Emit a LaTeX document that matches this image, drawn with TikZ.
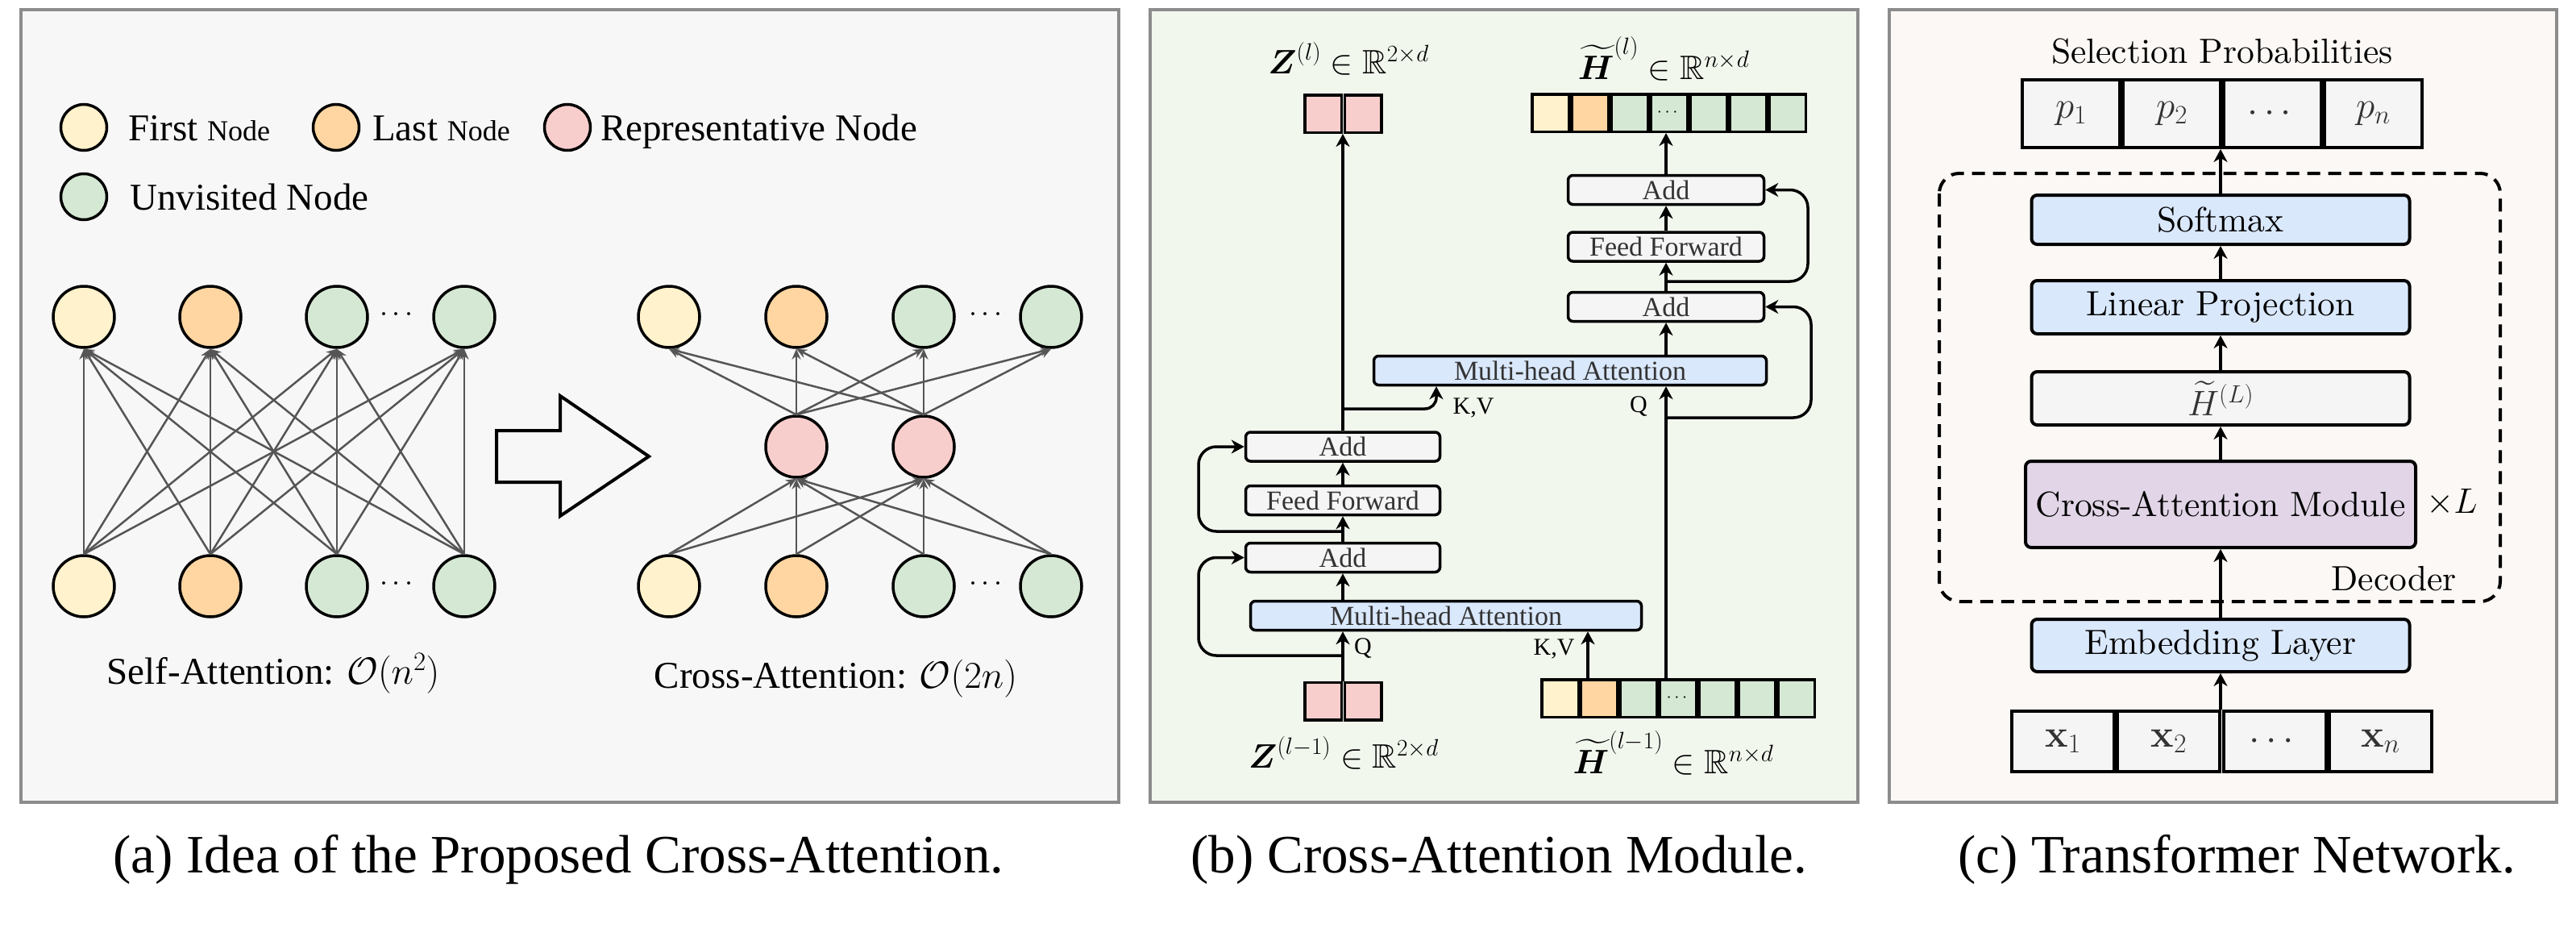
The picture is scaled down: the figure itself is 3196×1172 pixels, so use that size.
\RequirePackage{fix-cm}
\documentclass[tikz,border=0pt]{standalone}
\usepackage{amsmath,amssymb}
\usepackage[no-math]{fontspec}
\setmainfont{Liberation Serif}
\newfontfamily\lmfont{lmroman10-regular.otf}
\usetikzlibrary{arrows.meta}
\DeclareFontFamily{U}{msb}{}
\DeclareFontShape{U}{msb}{m}{n}{<-> msbm10}{}
\newcommand\fsz[1]{\fontsize{#1}{#1}\selectfont}
\definecolor{boxblue}{HTML}{DAE8FC}
\definecolor{boxgray}{HTML}{F5F5F5}
\definecolor{boxpurple}{HTML}{E1D5E7}
\definecolor{cyellow}{HTML}{FFF2CC}
\definecolor{corange}{HTML}{FFD6A2}
\definecolor{cpink}{HTML}{F8CECC}
\definecolor{cgreen}{HTML}{D5E8D4}
\definecolor{panelgray}{HTML}{8C8C8C}
\definecolor{bgA}{HTML}{F7F7F7}
\definecolor{bgB}{HTML}{F2F7EE}
\definecolor{bgC}{HTML}{FCF8F5}
\definecolor{edgegray}{HTML}{555555}
\definecolor{txtgray}{HTML}{333333}
\tikzset{
 pnl/.style={draw=panelgray, line width=4pt},
 nd/.style={circle, draw=black, line width=3.5pt, minimum size=76pt, inner sep=0pt},
 lg/.style={circle, draw=black, line width=3.5pt, minimum size=57pt, inner sep=0pt},
 gedge/.style={draw=edgegray, line width=2.5pt, -{Stealth[length=13pt,width=11pt]}},
 lgtxt/.style={anchor=base west, inner sep=0pt, font=\fsz{47}},
 dotsA/.style={inner sep=0pt, font=\fsz{36}},
 bx/.style={draw=black, line width=3.5pt, rounded corners=6pt, fill=boxgray, text=txtgray, inner sep=0pt, font=\fsz{34}, minimum height=36pt},
 mha/.style={bx, fill=boxblue},
 arr/.style={line width=3.5pt, -{Stealth[length=16pt,width=17pt,inset=5pt]}},
 cellb/.style={draw=black, line width=3.5pt, minimum width=45.5pt, minimum height=46.5pt, inner sep=0pt},
 lbl/.style={inner sep=0pt, font=\fsz{30}},
 mlbl/.style={inner sep=0pt, font=\fsz{42}},
 cbx/.style={draw=black, line width=4pt, rounded corners=7pt, inner sep=0pt, font=\lmfont\fsz{43.5}, minimum width=469pt},
 pcell/.style={draw=black, line width=4pt, fill=boxgray, text=txtgray, inner sep=0pt, font=\fsz{47}},
 captxt/.style={anchor=base, inner sep=0pt, font=\fsz{67}},
}
\begin{document}
\begin{tikzpicture}[x=1pt,y=-1pt]
\useasboundingbox (0,0) rectangle (3196,1172);
% ---------- panels
\draw[pnl, fill=bgA] (26,12) rectangle (1388,995);
\draw[pnl, fill=bgB] (1427,12) rectangle (2305,995);
\draw[pnl, fill=bgC] (2344,12) rectangle (3172,995);

% ---------- panel (a): legend
\node[lg, fill=cyellow] (lf) at (104,158) {};
\node[lgtxt] (lft) at (159,174) {First {\fsz{36}Node}};
\node[lg, fill=corange] (ll) at (417,158) {};
\node[lgtxt] (llt) at (462,174) {Last {\fsz{36}Node}};
\node[lg, fill=cpink] (lr) at (704,158) {};
\node[lgtxt] (lrt) at (745,174) {Representative Node};
\node[lg, fill=cgreen] (lu) at (104,244) {};
\node[lgtxt] (lut) at (161,260) {Unvisited Node};

% ---------- panel (a): self-attention
\node[nd, fill=cyellow] (a1) at (104,393) {};
\node[nd, fill=corange] (a2) at (261,393) {};
\node[nd, fill=cgreen] (a3) at (418,393) {};
\node[nd, fill=cgreen] (a4) at (576,393) {};
\node[nd, fill=cyellow] (b1) at (104,727) {};
\node[nd, fill=corange] (b2) at (261,727) {};
\node[nd, fill=cgreen] (b3) at (418,727) {};
\node[nd, fill=cgreen] (b4) at (576,727) {};
\node[dotsA] (adots) at (495,390) {$\cdots$};
\node[dotsA] (bdots) at (495,724) {$\cdots$};
\foreach \i in {1,...,4}{\foreach \j in {1,...,4}{\draw[gedge] (b\i.north) -- (a\j.south);}}
\node[inner sep=0pt, font=\fsz{47}] (sa) at (339,835) {Self-Attention: $\mathcal{O}(n^2)$};

% big hollow arrow
\draw[line width=4pt, line join=miter, fill=bgA] (616,534) -- (695,534) -- (695,491) -- (805,566) -- (695,640) -- (695,598) -- (616,598) -- cycle;

% ---------- panel (a): cross-attention
\node[nd, fill=cyellow] (c1) at (830,393) {};
\node[nd, fill=corange] (c2) at (988,393) {};
\node[nd, fill=cgreen] (c3) at (1146,393) {};
\node[nd, fill=cgreen] (c4) at (1304,393) {};
\node[nd, fill=cpink] (r1) at (988,554) {};
\node[nd, fill=cpink] (r2) at (1146,554) {};
\node[nd, fill=cyellow] (d1) at (830,727) {};
\node[nd, fill=corange] (d2) at (988,727) {};
\node[nd, fill=cgreen] (d3) at (1146,727) {};
\node[nd, fill=cgreen] (d4) at (1304,727) {};
\node[dotsA] (cdots) at (1226,390) {$\cdots$};
\node[dotsA] (ddots) at (1226,724) {$\cdots$};
\foreach \i in {1,...,4}{\foreach \r in {1,2}{
  \draw[gedge] (d\i.north) -- (r\r.south);
  \draw[gedge] (r\r.north) -- (c\i.south);}}
\node[inner sep=0pt, font=\fsz{47}] (ca) at (1037,842) {Cross-Attention: $\mathcal{O}(2n)$};

% ---------- panel (b)
\node[mlbl] (zlab) at (1673,73) {$\boldsymbol{Z}^{(l)} \in \mathbb{R}^{2\times d}$};
\node[mlbl] (hlab) at (2064,73) {$\boldsymbol{\widetilde{H}}^{(l)} \in \mathbb{R}^{n\times d}$};
\node[cellb, fill=cpink] (zt1) at (1641.5,141) {};
\node[cellb, fill=cpink] (zt2) at (1691,141) {};
\foreach \i/\c in {1/cyellow,2/corange,3/cgreen,4/cgreen,5/cgreen,6/cgreen,7/cgreen}
  {\node[cellb, fill=\c] (ht\i) at ({1923.5+49*(\i-1)},140) {};}
\node[inner sep=0pt, font=\fsz{22}] (htd) at (ht4) {$\cdots$};

\node[bx, minimum width=243pt] (addR2) at (2067,235.5) {Add};
\node[bx, minimum width=243pt] (ffR) at (2067,306) {Feed Forward};
\node[bx, minimum width=243pt] (addR1) at (2067,380.5) {Add};
\node[mha, minimum width=487pt] (mhaU) at (1948,459.5) {Multi-head Attention};
\node[bx, minimum width=241pt] (addL2) at (1666,554) {Add};
\node[bx, minimum width=241pt] (ffL) at (1666,620.5) {Feed Forward};
\node[bx, minimum width=241pt] (addL1) at (1666,691.5) {Add};
\node[mha, minimum width=485pt] (mhaL) at (1794,763.5) {Multi-head Attention};

\node[cellb, fill=cpink] (zb1) at (1641.5,869.5) {};
\node[cellb, fill=cpink] (zb2) at (1691,869.5) {};
\foreach \i/\c in {1/cyellow,2/corange,3/cgreen,4/cgreen,5/cgreen,6/cgreen,7/cgreen}
  {\node[cellb, fill=\c] (hb\i) at ({1935.5+48.9*(\i-1)},866) {};}
\node[inner sep=0pt, font=\fsz{22}] (hbd) at (hb4) {$\cdots$};
\node[mlbl] (zlab2) at (1667,934) {$\boldsymbol{Z}^{(l-1)} \in \mathbb{R}^{2\times d}$};
\node[mlbl] (hlab2) at (2076,934) {$\boldsymbol{\widetilde{H}}^{(l-1)} \in \mathbb{R}^{n\times d}$};

% left column arrows
\draw[arr] (addL1 |- zb1.north) -- (addL1 |- mhaL.south);
\draw[arr] (addL1 |- mhaL.north) -- (addL1.south);
\draw[arr] (addL1.north) -- (ffL.south);
\draw[arr] (ffL.north) -- (addL2.south);
\draw[arr] (addL2.north) -- (addL2.north |- zt1.south);
\coordinate (sl1) at (1666,813);
\coordinate (sl2) at (1666,659);
\draw[arr, rounded corners=22pt] (sl1) -- (1487,813) -- (1487,691.5) -- (addL1.west);
\draw[arr, rounded corners=22pt] (sl2) -- (1487,659) -- (1487,554) -- (addL2.west);
\coordinate (kvu) at (1666,507);
\coordinate (kvx) at (1782,0);
\draw[arr, rounded corners=14pt] (kvu) -| (mhaU.south -| kvx);
\coordinate (kvlx) at (1970,0);
\draw[arr] (hb2.north -| kvlx) -- (mhaL.south -| kvlx);
% right column arrows
\draw[arr] (addR1 |- hb4.north) -- (addR1 |- mhaU.south);
\draw[arr] (addR1 |- mhaU.north) -- (addR1.south);
\draw[arr] (addR1.north) -- (ffR.south);
\draw[arr] (ffR.north) -- (addR2.south);
\draw[arr] (addR2.north) -- (addR2.north |- ht4.south);
\coordinate (sr1) at (2067,518);
\coordinate (sr2) at (2067,349);
\draw[arr, rounded corners=22pt] (sr1) -- (2247,518) -- (2247,380.5) -- (addR1.east);
\draw[arr, rounded corners=22pt] (sr2) -- (2243,349) -- (2243,235.5) -- (addR2.east);
% labels
\node[lbl] (kvlab) at (1828,506) {K,V};
\node[lbl] (qlab) at (2033,504) {Q};
\node[lbl] (qlab2) at (1691,804) {Q};
\node[lbl] (kvlab2) at (1928,805) {K,V};

% ---------- panel (c)
\draw[line width=4pt, dash pattern=on 16pt off 10pt, rounded corners=25pt] (2406,215) rectangle (3102,746);
\node[inner sep=0pt, font=\lmfont\fsz{43.5}] (selp) at (2757,64) {Selection Probabilities};
\node[pcell, minimum width=121pt, minimum height=84pt] (p1) at (2569.5,141) {$p_1$};
\node[pcell, minimum width=121pt, minimum height=84pt] (p2) at (2694.5,141) {$p_2$};
\node[pcell, minimum width=121pt, minimum height=84pt] (p3) at (2819.5,141) {$\cdots$};
\node[pcell, minimum width=121pt, minimum height=84pt] (p4) at (2944.5,141) {$p_n$};
\node[cbx, fill=boxblue, minimum height=61pt] (sm) at (2755,272.5) {Softmax};
\node[cbx, fill=boxblue, minimum height=66pt] (lp) at (2755,381) {Linear Projection};
\node[cbx, fill=boxgray, text=txtgray, minimum height=66pt, font=\fsz{44}] (hl) at (2755,494) {$\widetilde{H}^{(L)}$};
\node[cbx, fill=boxpurple, minimum width=484pt, minimum height=107pt] (cam) at (2755,625.5) {Cross-Attention Module};
\node[inner sep=0pt, font=\fsz{44}] (xl) at (3042,623) {$\times L$};
\node[anchor=base east, inner sep=0pt, font=\lmfont\fsz{43.5}] (dec) at (3048,732) {Decoder};
\node[cbx, fill=boxblue, minimum height=65pt] (emb) at (2755,800.5) {Embedding Layer};
\node[pcell, font=\fsz{48}, minimum width=127pt, minimum height=75pt] (x1) at (2559.6,919.5) {$\mathbf{x}_1$};
\node[pcell, font=\fsz{48}, minimum width=127pt, minimum height=75pt] (x2) at (2690.9,919.5) {$\mathbf{x}_2$};
\node[pcell, font=\fsz{48}, minimum width=127pt, minimum height=75pt] (x3) at (2822.1,919.5) {$\cdots$};
\node[pcell, font=\fsz{48}, minimum width=127pt, minimum height=75pt] (x4) at (2953.4,919.5) {$\mathbf{x}_n$};
\draw[arr] (emb.south |- x2.north) -- (emb.south);
\draw[arr] (emb.north) -- (cam.south);
\draw[arr] (cam.north) -- (hl.south);
\draw[arr] (hl.north) -- (lp.south);
\draw[arr] (lp.north) -- (sm.south);
\draw[arr] (sm.north) -- (sm.north |- p2.south);

% ---------- captions
\node[captxt] (capa) at (693,1082) {(a) Idea of the Proposed Cross-Attention.};
\node[captxt] (capb) at (1860,1082) {(b) Cross-Attention Module.};
\node[captxt] (capc) at (2775,1082) {(c) Transformer Network.};
\end{tikzpicture}
\end{document}
